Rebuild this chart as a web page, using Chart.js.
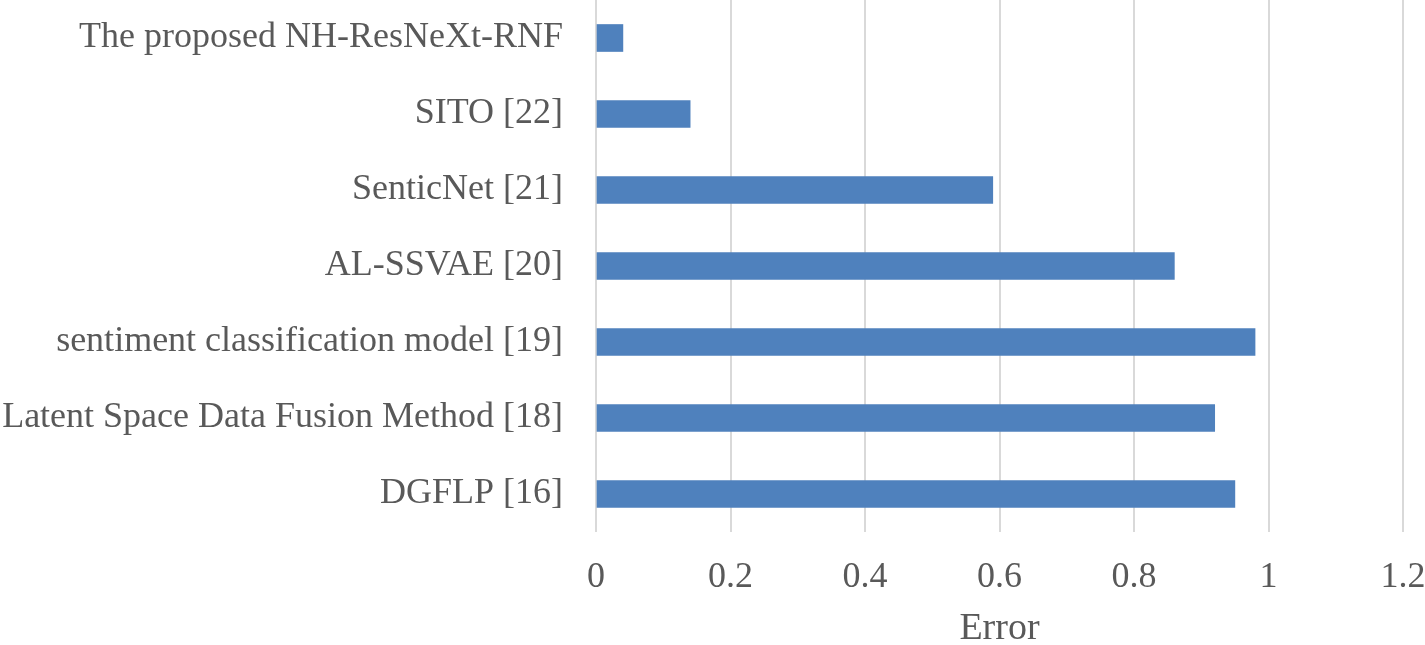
<!DOCTYPE html>
<html>
<head>
<meta charset="utf-8">
<script src="https://cdn.jsdelivr.net/npm/chart.js@4/dist/chart.umd.min.js"></script>
<style>
html,body{margin:0;padding:0;background:#fff;}
#wrap{width:1425px;height:645px;}
</style>
</head>
<body>
<div id="wrap"><canvas id="c" width="1425" height="645"></canvas></div>
<script>
const categories = [
  "The proposed NH-ResNeXt-RNF",
  "SITO [22]",
  "SenticNet [21]",
  "AL-SSVAE [20]",
  "sentiment classification model [19]",
  "Latent Space Data Fusion Method [18]",
  "DGFLP [16]"
];
const errorValues = [0.04, 0.14, 0.59, 0.86, 0.98, 0.92, 0.95];
const xTickLabels = ["0", "0.2", "0.4", "0.6", "0.8", "1", "1.2"];
const axisTitle = "Error";

const FONT = "'Liberation Serif', 'Times New Roman', serif";
const TXT = "#595959";

new Chart(document.getElementById('c'), {
  type: 'bar',
  data: {
    labels: categories,
    datasets: [{
      label: axisTitle,
      data: errorValues,
      backgroundColor: '#4f81bd',
      borderWidth: 0,
      barThickness: 27
    }]
  },
  options: {
    indexAxis: 'y',
    responsive: false,
    devicePixelRatio: 1,
    animation: false,
    layout: { padding: { top: 0, right: 22, bottom: 0, left: 0 } },
    plugins: { legend: { display: false }, tooltip: { enabled: false } },
    scales: {
      x: {
        min: 0, max: 1.2,
        ticks: { stepSize: 0.2, color: TXT, font: { family: FONT, size: 36 }, padding: 24, maxRotation: 0,
                 callback: (v, i) => xTickLabels[i] },
        grid: { color: '#d9d9d9', lineWidth: 2, drawTicks: false },
        border: { display: false },
        title: { display: true, text: axisTitle, color: TXT, font: { family: FONT, size: 38 }, padding: { top: 0, bottom: -7 } },
        afterFit: (s) => { s.height = 113; s.paddingLeft = 0; s.paddingRight = 0; s.paddingTop = 0; s.paddingBottom = 0; }
      },
      y: {
        ticks: { color: TXT, font: { family: FONT, size: 36 }, padding: 33 },
        grid: { display: false, drawTicks: false },
        border: { display: false },
        afterFit: (s) => { s.width = 596; s.paddingTop = 0; s.paddingBottom = 0; s.paddingLeft = 0; s.paddingRight = 0; }
      }
    }
  }
});
</script>
</body>
</html>
